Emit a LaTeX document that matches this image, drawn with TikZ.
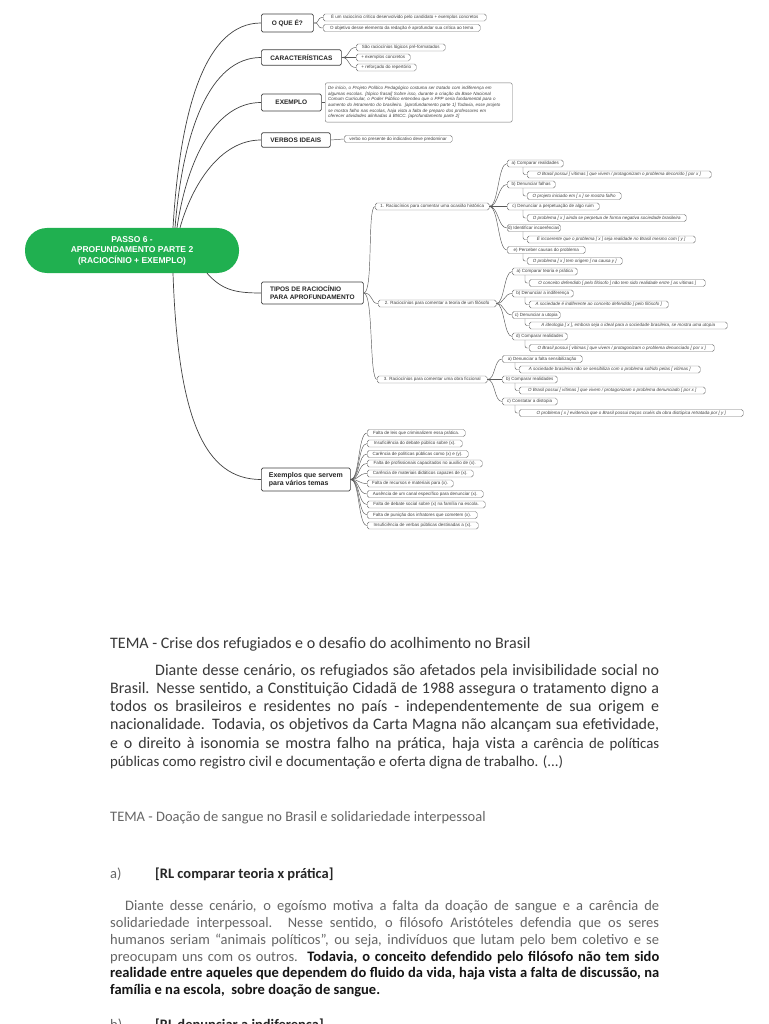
\documentclass[tikz,border=0pt]{standalone}
\usepackage{fontspec}
\setmainfont{Liberation Sans}
\newfontfamily\calfont{Carlito}
\usetikzlibrary{calc}
\definecolor{rootgreen}{HTML}{20B050}
\begin{document}
\begin{tikzpicture}[x=1pt,y=-1pt,
  root/.style={fill=rootgreen, rounded corners=22pt, minimum width=214pt, minimum height=45pt,
    text=white, align=center, inner sep=0pt, font=\bfseries\fontsize{8.5}{10.5}\selectfont},
  lone/.style={draw=black!75, line width=0.7pt, fill=white, rounded corners=1.5pt, anchor=west,
    inner sep=0pt, align=left, text=black!85, font=\bfseries\fontsize{6.5}{7.8}\selectfont},
  ltwo/.style={draw=black!55, line width=0.45pt, fill=white, rounded corners=1.8pt, anchor=west,
    inner xsep=1pt, inner ysep=0pt, minimum height=7pt, text=black!75, minimum width=#1,
    font=\fontsize{4.5}{5.4}\selectfont},
  lthree/.style={ltwo=#1, font=\itshape\fontsize{4.5}{5.4}\selectfont},
  cone/.style={draw=black!75, line width=0.7pt},
  ctwo/.style={draw=black!65, line width=0.45pt},
  cthree/.style={draw=black!65, line width=0.45pt, rounded corners=2pt},
  txt/.style={inner sep=0pt, anchor=base west, text=black!78, font=\calfont\fontsize{16}{18}\selectfont},
  txtb/.style={inner sep=0pt, anchor=base west, text=black!60, font=\calfont\fontsize{14.5}{17}\selectfont},
  txtbold/.style={inner sep=0pt, anchor=base west, text=black!92, font=\calfont\bfseries\fontsize{14.5}{17}\selectfont},
]
\useasboundingbox (0,0) rectangle (768,1024);
\clip (0,0) rectangle (768,1024);
\fill[white] (0,0) rectangle (768,1024);

% ---------- root ----------
\node[root] (root) at (132,250.5) {PASSO 6 -\\APROFUNDAMENTO PARTE 2\\(RACIOCÍNIO + EXEMPLO)};

% ---------- level 1 ----------
\node[lone, minimum width=52pt, minimum height=18pt, align=center] (oque) at (261,23) {O QUE É?};
\node[lone, minimum width=80pt, minimum height=15.5pt, align=center] (carac) at (261,57.5) {CARACTERÍSTICAS};
\node[lone, minimum width=60pt, minimum height=17pt, align=center] (exemplo) at (261,102.5) {EXEMPLO};
\node[lone, minimum width=69pt, minimum height=14.5pt, align=center] (verbos) at (261,140) {VERBOS IDEAIS};
\node[lone, minimum width=102pt, minimum height=22pt] (tipos) at (261,293) {TIPOS DE RACIOCÍNIO\\PARA APROFUNDAMENTO};
\node[lone, minimum width=89pt, minimum height=23pt, font=\bfseries\fontsize{7}{8.5}\selectfont] (exs) at (261,479.5) {Exemplos que servem\\para vários temas};

% ---------- root connectors ----------
\draw[cone] ([xshift=41pt]root.north) .. controls (180,110) and (205,23) .. (oque.west);
\draw[cone] ([xshift=43pt]root.north) .. controls (183,130) and (210,57.5) .. (carac.west);
\draw[cone] ([xshift=45pt]root.north) .. controls (187,160) and (215,102.5) .. (exemplo.west);
\draw[cone] ([xshift=48pt]root.north) .. controls (192,185) and (220,140) .. (verbos.west);
\draw[cone] ([xshift=75pt]root.south) .. controls (222,290) and (235,293) .. (tipos.west);
\draw[cone] ([xshift=41pt]root.south) .. controls (178,420) and (205,479.5) .. (exs.west);

% ---------- O QUE E ----------
\node[ltwo=163pt] (oq1) at (323,17.5) {É um raciocínio crítico desenvolvido pelo candidato + exemplos concretos};
\node[ltwo=157pt] (oq2) at (323,28) {O objetivo desse elemento da redação é aprofundar sua crítica ao tema};
\foreach \c in {oq1,oq2} \draw[ctwo] (oque.east) .. controls +(7,0) and +(-7,0) .. (\c.west);

% ---------- CARACTERISTICAS ----------
\node[ltwo=89pt] (ca1) at (356,47.5) {São raciocínios lógicos pré-formatados};
\node[ltwo=54pt] (ca2) at (356,57.5) {+ exemplos concretos};
\node[ltwo=60pt] (ca3) at (356,67.5) {+ reforçado do repertório};
\foreach \c in {ca1,ca2,ca3} \draw[ctwo] (carac.east) .. controls +(9,0) and +(-9,0) .. (\c.west);

% ---------- EXEMPLO ----------
\node[draw=black!55, line width=0.45pt, fill=white, rounded corners=2pt, anchor=west, inner xsep=3pt,
  minimum width=187pt, minimum height=37pt, text width=181pt, align=left, text=black!75,
  font=\itshape\fontsize{4.5}{5.7}\selectfont] (ex1) at (325,102.5)
  {De início, o Projeto Político Pedagógico costuma ser tratado com indiferença em\\
   algumas escolas. [tópico frasal] Sobre isso, durante a criação da Base Nacional\\
   Comum Curricular, o Poder Público entendeu que o PPP seria fundamental para o\\
   aumento do letramento do brasileiro. [aprofundamento parte 1] Todavia, esse projeto\\
   se mostra falho nas escolas, haja vista a falta de preparo dos professores em\\
   oferecer atividades alinhadas à BNCC. [aprofundamento parte 2]};
\draw[ctwo] (exemplo.east) -- (ex1.west);

% ---------- VERBOS ----------
\node[ltwo=108pt] (vb1) at (344,139) {verbo no presente do indicativo deve predominar};
\draw[ctwo] (verbos.east) .. controls +(7,0) and +(-7,0) .. (vb1.west);

% ---------- TIPOS ----------
\node[ltwo=114pt] (t1) at (375,206.5) {1. Raciocínios para comentar uma ocasião histórica};
\node[ltwo=118pt] (t2) at (378,303.5) {2. Raciocínios para comentar a teoria de um filósofo};
\node[ltwo=110pt] (t3) at (377,379.5) {3. Raciocínios para comentar uma obra ficcional};
\foreach \c in {t1,t2,t3} \draw[ctwo] (tipos.east) .. controls +(10,0) and +(-8,0) .. (\c.west);

% group 1
\node[ltwo=56pt] (t1a) at (507,163.5) {a) Comparar realidades};
\node[lthree=184pt] (t1aa) at (527,174.5) {O Brasil possui [ vítimas ] que vivem / protagonizam o problema decorrido [ por x ]};
\node[ltwo=48pt] (t1b) at (507,184.5) {b) Denunciar falhas};
\node[lthree=94pt] (t1bb) at (527,196) {O projeto iniciado em [ x ] se mostra falho};
\node[ltwo=92pt] (t1c) at (507,206.5) {c) Denunciar a perpetuação de algo ruim};
\node[lthree=159pt] (t1cc) at (527,218) {O problema [ x ] ainda se perpetua de forma negativa sociedade brasileira};
\node[ltwo=51pt] (t1d) at (507,228) {d) Identificar incoerências};
\node[lthree=168pt] (t1dd) at (527,239.5) {É incoerente que o problema [ x ] seja realidade no Brasil mesmo com [ y ]};
\node[ltwo=78pt] (t1e) at (507,250) {e) Perceber causas do problema};
\node[lthree=95pt] (t1ee) at (527,261) {O problema [ x ] tem origem [ na causa y ]};
\foreach \c in {t1a,t1b,t1c,t1d,t1e} \draw[ctwo] (t1.east) .. controls +(9,0) and +(-9,0) .. (\c.west);
\foreach \p/\c in {t1a/t1aa,t1b/t1bb,t1c/t1cc,t1d/t1dd,t1e/t1ee}
  \draw[cthree] (\p.south west) ++(16,0) |- (\c.west);

% group 2
\node[ltwo=65pt] (t2a) at (512,271.5) {a) Comparar teoria e prática};
\node[lthree=176pt] (t2aa) at (529,283) {O conceito defendido [ pelo filósofo ] não tem sido realidade entre [ as vítimas ]};
\node[ltwo=61pt] (t2b) at (512,293.5) {b) Denunciar a indiferença};
\node[lthree=139pt] (t2bb) at (529,304.5) {A sociedade é indiferente ao conceito defendido [ pelo filósofo ]};
\node[ltwo=48pt] (t2c) at (512,315) {c) Denunciar a utopia};
\node[lthree=198pt] (t2cc) at (529,325.5) {A ideologia [ x ], embora seja o ideal para a sociedade brasileira, se mostra uma utopia};
\node[ltwo=55pt] (t2d) at (512,336.5) {d) Comparar realidades};
\node[lthree=185pt] (t2dd) at (529,348) {O Brasil possui [ vítimas ] que vivem / protagonizam o problema denunciado [ por x ]};
\foreach \c in {t2a,t2b,t2c,t2d} \draw[ctwo] (t2.east) .. controls +(8,0) and +(-8,0) .. (\c.west);
\foreach \p/\c in {t2a/t2aa,t2b/t2bb,t2c/t2cc,t2d/t2dd}
  \draw[cthree] (\p.south west) ++(13,0) |- (\c.west);

% group 3
\node[ltwo=80pt] (t3a) at (502,359) {a) Denunciar a falta sensibilização};
\node[lthree=181pt] (t3aa) at (519,369.5) {A sociedade brasileira não se sensibiliza com o problema sofrido pelas [ vítimas ]};
\node[ltwo=55pt] (t3b) at (502,379.5) {b) Comparar realidades};
\node[lthree=186pt] (t3bb) at (519,390.5) {O Brasil possui [ vítimas ] que vivem / protagonizam o problema denunciado [ por x ]};
\node[ltwo=55pt] (t3c) at (502,401.5) {c) Constatar a distopia};
\node[lthree=224pt] (t3cc) at (519,413) {O problema [ x ] evidencia que o Brasil possui traços cruéis da obra distópica retratada por [ y ]};
\foreach \c in {t3a,t3b,t3c} \draw[ctwo] (t3.east) .. controls +(8,0) and +(-8,0) .. (\c.west);
\foreach \p/\c in {t3a/t3aa,t3b/t3bb,t3c/t3cc}
  \draw[cthree] (\p.south west) ++(13,0) |- (\c.west);

% ---------- EXEMPLOS ----------
\node[ltwo=98pt] (e1) at (367,433) {Falta de leis que criminalizem essa prática.};
\node[ltwo=95pt] (e2) at (367,443.5) {Insuficiência do debate público sobre (x).};
\node[ltwo=101pt] (e3) at (367,454) {Carência de políticas públicas como (x) e (y).};
\node[ltwo=115pt] (e4) at (367,463.5) {Falta de profissionais capacitados no auxílio de (x).};
\node[ltwo=106pt] (e5) at (367,473.5) {Carência de materiais didáticos capazes de (x).};
\node[ltwo=86pt] (e6) at (367,483.5) {Falta de recursos e materiais para (x).};
\node[ltwo=116pt] (e7) at (367,494) {Ausência de um canal específico para denunciar (x).};
\node[ltwo=118pt] (e8) at (367,504.5) {Falta de debate social sobre (x) na família na escola.};
\node[ltwo=110pt] (e9) at (367,515) {Falta de punição dos infratores que cometem (x).};
\node[ltwo=111pt] (e10) at (367,525.5) {Insuficiência de verbas públicas destinadas a (x).};
\foreach \c in {e1,e2,e3,e4,e5,e6,e7,e8,e9,e10} \draw[ctwo] (exs.east) .. controls +(9,0) and +(-9,0) .. (\c.west);

% ---------- text block 1 ----------
\node[txt] (tema1) at (110,648) {TEMA - Crise dos refugiados e o desafio do acolhimento no Brasil};
\node[txt] (p1) at (155,675) {\makebox[504pt][s]{Diante desse cenário, os refugiados são afetados pela invisibilidade social no}};
\node[txt] (p2) at (110,693.3) {\makebox[549pt][s]{Brasil. Nesse sentido, a Constituição Cidadã de 1988 assegura o tratamento digno a}};
\node[txt] (p3) at (110,711.6) {\makebox[549pt][s]{todos os brasileiros e residentes no país - independentemente de sua origem e}};
\node[txt] (p4) at (110,729.9) {\makebox[549pt][s]{nacionalidade. Todavia, os objetivos da Carta Magna não alcançam sua efetividade,}};
\node[txt] (p5) at (110,748.2) {\makebox[549pt][s]{e o direito à isonomia se mostra falho na prática, haja vista {\fontsize{14.8}{17}\selectfont a carência de políticas}}};
\node[txt, font=\calfont\fontsize{14.8}{17}\selectfont] (p6) at (110,766.5) {públicas como registro civil e documentação e oferta digna de trabalho. (...)};

% ---------- text block 2 ----------
\node[txtb] (tema2) at (110,821) {TEMA - Doação de sangue no Brasil e solidariedade interpessoal};
\node[txtb] (qa) at (110,878) {a)};
\node[txtbold, text=black!85] (qat) at (155,878) {[RL comparar teoria x prática]};
\node[txtb] (r1) at (125,910) {\makebox[534pt][s]{Diante desse cenário, o egoísmo motiva a falta da doação de sangue e a carência de}};
\node[txtb] (r2) at (110,927) {\makebox[549pt][s]{solidariedade interpessoal. Nesse sentido, o filósofo Aristóteles defendia que os seres}};
\node[txtb] (r3) at (110,944) {\makebox[549pt][s]{humanos seriam “animais políticos”, ou seja, indivíduos que lutam pelo bem coletivo e se}};
\node[txtb] (r4) at (110,961) {\makebox[549pt][s]{preocupam uns com os outros.\ \ {\color{black!92}\bfseries Todavia, o conceito defendido pelo filósofo não tem sido}}};
\node[txtbold] (r5) at (110,977.5) {\makebox[549pt][s]{realidade entre aqueles que dependem do fluido da vida, haja vista a falta de discussão, na}};
\node[txtbold] (r6) at (110,994.5) {família e na escola,\ \ sobre doação de sangue.};
\node[txtb] (qb) at (110,1029.5) {b)};
\node[txtbold, text=black!85] (qbt) at (155,1029.5) {[RL denunciar a indiferença]};
\end{tikzpicture}
\end{document}
